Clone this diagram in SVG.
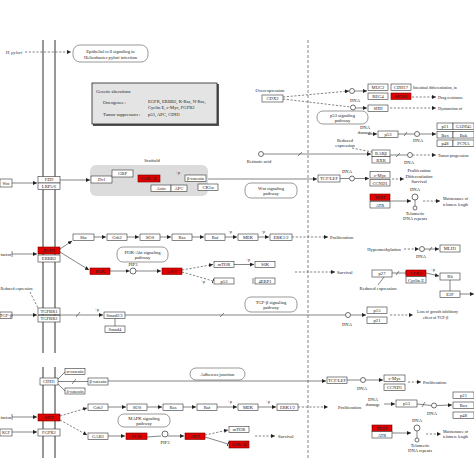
<svg xmlns="http://www.w3.org/2000/svg" width="474" height="474" viewBox="0 0 474 474">
<style>
.b{fill:#fff;stroke:#333;stroke-width:0.6}
.r{fill:#e00000;stroke:#700;stroke-width:0.6}
.t{font-family:"Liberation Serif",serif;font-size:4.6px;fill:#222;text-anchor:middle}
.s{text-anchor:start}
.e{text-anchor:end}
.sm{font-size:4px}
.l{stroke:#333;stroke-width:0.6;fill:none}
.d{stroke-dasharray:2.2 1.6}
.a{marker-end:url(#ar)}
.i{marker-end:url(#inh)}
.pw{fill:#fff;stroke:#555;stroke-width:0.6}
.c{fill:#fff;stroke:#333;stroke-width:0.7}
.mem{stroke:#8c8c8c;stroke-width:1.8}
</style>
<defs>
<marker id="ar" viewBox="0 0 6 6" refX="6" refY="3" markerWidth="4" markerHeight="4" orient="auto" markerUnits="userSpaceOnUse"><path d="M0,0L6,3L0,6z" fill="#222"/></marker>
<marker id="inh" viewBox="0 0 2 8" refX="1" refY="4" markerWidth="1" markerHeight="5" orient="auto" markerUnits="userSpaceOnUse"><path d="M1,0V8" stroke="#222" stroke-width="2"/></marker>
</defs>
<rect width="474" height="474" fill="#fff"/>
<g id="membrane">
<line class="mem" x1="43" y1="40" x2="43" y2="353"/><line class="mem" x1="55" y1="40" x2="55" y2="353"/>
<line class="mem" x1="43" y1="367" x2="43" y2="458"/><line class="mem" x1="55" y1="367" x2="55" y2="458"/>
<line x1="308" y1="40" x2="308" y2="458" stroke="#999" stroke-width="1.2" stroke-dasharray="3 2"/>
</g>
<g id="connectors">
<line class="l d a" x1="25" y1="52" x2="71" y2="52"/>
<line class="l d a" x1="283" y1="97" x2="349" y2="91"/>
<line class="l a" x1="354.5" y1="91" x2="367" y2="91"/>
<line class="l d" x1="283" y1="99" x2="350.5" y2="107"/>
<line class="l a" x1="355.5" y1="108" x2="367" y2="108"/>
<line class="l d a" x1="412" y1="97" x2="436" y2="97"/>
<line class="l d a" x1="390" y1="108" x2="436" y2="108"/>
<line class="l a" x1="368" y1="134" x2="377" y2="134"/>
<line class="l" x1="398" y1="134" x2="414.5" y2="134"/><line class="l" x1="404" y1="136" x2="407" y2="132"/>
<line class="l a" x1="419.5" y1="134" x2="436" y2="134"/>
<line class="l d" x1="352" y1="148" x2="372" y2="152"/>
<line class="l a" x1="263.5" y1="154" x2="371" y2="154"/><line class="l" x1="298" y1="156" x2="302" y2="152"/>
<line class="l" x1="390" y1="155" x2="407.5" y2="155"/><line class="l" x1="396" y1="157" x2="400" y2="153"/>
<line class="l d a" x1="412.5" y1="155" x2="436" y2="155"/>
<line class="l a" x1="12" y1="183" x2="37" y2="183"/>
<line class="l a" x1="60" y1="180" x2="90" y2="180"/>
<line class="l" x1="160" y1="181" x2="170" y2="177"/>
<line class="l a" x1="170" y1="178" x2="184" y2="178"/>
<line class="l a" x1="206" y1="179" x2="317" y2="179"/>
<line class="l" x1="340" y1="178.5" x2="349.5" y2="178.5"/>
<line class="l a" x1="354.5" y1="178.5" x2="369" y2="178.5"/>
<line class="l d a" x1="392" y1="179" x2="404" y2="179"/>
<line class="l a" x1="390" y1="201" x2="411" y2="201"/>
<line class="l" x1="415" y1="200" x2="415" y2="206"/>
<line class="l d a" x1="423" y1="201" x2="440" y2="201"/>
<line class="l" x1="12" y1="251" x2="12" y2="257"/>
<line class="l a" x1="12" y1="254" x2="37" y2="254"/>
<line class="l a" x1="60" y1="249" x2="72" y2="241"/>
<line class="l a" x1="60" y1="252" x2="89" y2="270"/>
<line class="l a" x1="94" y1="237" x2="106" y2="237"/>
<line class="l a" x1="127" y1="237" x2="139" y2="237"/>
<line class="l a" x1="160" y1="237" x2="171" y2="237"/>
<line class="l a" x1="192" y1="237" x2="204" y2="237"/>
<line class="l a" x1="225" y1="237" x2="237" y2="237"/>
<line class="l a" x1="258" y1="237" x2="269" y2="237"/>
<line class="l d a" x1="292" y1="237" x2="328" y2="237"/>
<line class="l a" x1="110" y1="271" x2="129.5" y2="271"/>
<line class="l a" x1="136" y1="271" x2="161" y2="271"/>
<line class="l d a" x1="182" y1="270" x2="213" y2="264.5"/>
<line class="l d i" x1="182" y1="272" x2="213" y2="281"/>
<line class="l a" x1="234" y1="264.5" x2="254" y2="264.5"/>
<line class="l" x1="253" y1="278" x2="253" y2="284"/>
<line class="l d a" x1="295" y1="272" x2="335" y2="272"/>
<line class="l d a" x1="404" y1="249" x2="419" y2="249"/>
<line class="l a" x1="424.5" y1="249" x2="439" y2="249"/><line class="l" x1="429" y1="251" x2="432" y2="247"/>
<line class="l i" x1="392" y1="273" x2="405" y2="273"/><line class="l" x1="396" y1="275" x2="399" y2="271"/>
<line class="l" x1="384" y1="277" x2="378" y2="285"/>
<line class="l a" x1="426" y1="273" x2="439" y2="276"/>
<line class="l" x1="450" y1="280" x2="450" y2="291"/>
<line class="l a" x1="460" y1="294" x2="474" y2="294"/>
<line class="l d" x1="30" y1="292" x2="38" y2="308"/>
<line class="l a" x1="12" y1="315" x2="37" y2="315"/>
<line class="l a" x1="60" y1="315" x2="103" y2="315"/><line class="l" x1="76" y1="317" x2="80" y2="312"/>
<line class="l" x1="115" y1="318" x2="115" y2="326"/>
<line class="l" x1="125" y1="315" x2="345.5" y2="315"/><line class="l" x1="220" y1="317" x2="224" y2="313"/>
<line class="l a" x1="350.5" y1="315" x2="366" y2="315"/>
<line class="l d a" x1="390" y1="315" x2="413" y2="315"/>
<line class="l" x1="58" y1="379" x2="65" y2="372"/>
<line class="l" x1="58" y1="384" x2="65" y2="391"/>
<line class="l" x1="58" y1="381.5" x2="88" y2="381.5"/><line class="l" x1="72" y1="384" x2="76" y2="379"/>
<line class="l a" x1="108" y1="381" x2="326" y2="381"/>
<line class="l" x1="347" y1="380" x2="360.5" y2="380"/>
<line class="l a" x1="365.5" y1="380" x2="383" y2="380"/>
<line class="l d a" x1="408" y1="382" x2="421" y2="382"/>
<line class="l" x1="12" y1="414" x2="12" y2="420"/>
<line class="l a" x1="12" y1="417" x2="37" y2="417"/>
<line class="l a" x1="12" y1="432" x2="37" y2="432"/>
<line class="l d a" x1="60" y1="416" x2="87" y2="408"/>
<line class="l d a" x1="60" y1="420" x2="87" y2="435"/>
<line class="l a" x1="108" y1="407" x2="126" y2="407"/>
<line class="l a" x1="147" y1="407" x2="162" y2="407"/>
<line class="l a" x1="183" y1="407" x2="196" y2="407"/>
<line class="l a" x1="217" y1="407" x2="237" y2="407"/>
<line class="l a" x1="258" y1="407" x2="276" y2="407"/>
<line class="l d a" x1="298" y1="407" x2="328" y2="407"/>
<line class="l a" x1="108" y1="436" x2="125" y2="436"/>
<line class="l" x1="147" y1="437" x2="161" y2="436"/>
<line class="l a" x1="168" y1="436" x2="184" y2="436"/>
<line class="l d a" x1="205" y1="435" x2="228" y2="430"/>
<line class="l i" x1="205" y1="437" x2="228" y2="444"/>
<line class="l d a" x1="255" y1="436" x2="275" y2="436"/>
<line class="l a" x1="384" y1="404" x2="395" y2="404"/>
<line class="l" x1="417" y1="404" x2="431.5" y2="405.5"/><line class="l" x1="422" y1="407" x2="425" y2="402"/>
<line class="l a" x1="436.5" y1="405.5" x2="452" y2="405"/>
<line class="l a" x1="392" y1="433" x2="411" y2="433"/>
<line class="l" x1="417" y1="431" x2="417" y2="438"/>
<line class="l d a" x1="426" y1="434" x2="441" y2="434"/>
</g>
<g id="circles">
<circle class="c" cx="352" cy="91" r="2.5"/>
<circle class="c" cx="353" cy="107.5" r="2.5"/>
<circle class="c" cx="417" cy="134" r="2.5"/>
<circle class="c" cx="261" cy="154" r="2.5"/>
<circle class="c" cx="410" cy="155" r="2.5"/>
<circle class="c" cx="352" cy="178.5" r="2.5"/>
<circle class="c" cx="415" cy="197" r="3"/>
<circle class="c" cx="415" cy="208" r="2"/>
<circle class="c" cx="133" cy="271" r="3"/>
<circle class="c" cx="422" cy="249" r="2.5"/>
<circle class="c" cx="348" cy="315" r="2.5"/>
<circle class="c" cx="363" cy="380" r="2.5"/>
<circle class="c" cx="165" cy="434" r="3"/>
<circle class="c" cx="434" cy="405.5" r="2.5"/>
<circle class="c" cx="417" cy="428" r="3"/>
<circle class="c" cx="417" cy="440" r="2"/>
</g>
<g id="pathways">
<g id="p-hpylori"><rect class="pw" x="73" y="45" width="75" height="17" rx="7"/><text class="t" x="110.5" y="52.5">Epithelial cell signaling in</text><text class="t" x="110.5" y="58.5">Helicobacter pylori infection</text></g>
<g id="p-p53"><rect class="pw" x="317" y="111" width="51" height="13" rx="6"/><text class="t" x="342.5" y="116.5">p53 signaling</text><text class="t" x="342.5" y="121.5">pathway</text></g>
<g id="p-wnt"><rect class="pw" x="245" y="183" width="52" height="15" rx="6"/><text class="t" x="271" y="189.5">Wnt signaling</text><text class="t" x="271" y="194.5">pathway</text></g>
<g id="p-pi3k"><rect class="pw" x="117" y="247" width="51" height="15" rx="6"/><text class="t" x="142.5" y="253.5">PI3K-Akt signaling</text><text class="t" x="142.5" y="258.5">pathway</text></g>
<g id="p-tgf"><rect class="pw" x="245" y="297" width="52" height="15" rx="6"/><text class="t" x="271" y="303.5">TGF-β signaling</text><text class="t" x="271" y="308.5">pathway</text></g>
<g id="p-adh"><rect class="pw" x="190" y="368" width="55" height="12" rx="6"/><text class="t" x="217.5" y="375.5">Adherens junction</text></g>
<g id="p-mapk"><rect class="pw" x="118" y="414" width="52" height="13" rx="6"/><text class="t" x="144" y="419.5">MAPK signaling</text><text class="t" x="144" y="424.5">pathway</text></g>
</g>
<g id="genetic">
<rect x="93" y="84" width="126" height="42" fill="#555"/>
<rect x="92" y="83" width="125" height="41" fill="#e4e4e4" stroke="#222" stroke-width="0.8"/>
<text class="t s" x="96" y="93">Genetic alterations</text>
<text class="t s" x="103" y="104">Oncogenes :</text>
<text class="t s" x="148" y="103">EGFR, ERBB2, K-Ras, N-Ras,</text>
<text class="t s" x="148" y="109">Cyclin E, c-Myc, FGFR2</text>
<text class="t s" x="103" y="116">Tumor suppressors :</text>
<text class="t s" x="148" y="116">p53, APC, CDH1</text>
</g>
<g id="scaffold"><rect x="90" y="165" width="118" height="31" rx="6" fill="#dcdcdc"/><text class="t" x="152" y="162">Scaffold</text></g>
<g id="nodes">
<g id="n-cdx2"><rect class="b" x="262" y="95" width="21" height="7"/><text class="t" x="272.5" y="100.3">CDX2</text></g>
<g id="n-muc2"><rect class="b" x="368" y="84" width="20" height="6.5"/><text class="t" x="378" y="89">MUC2</text></g>
<g id="n-cdh17"><rect class="b" x="391" y="84" width="20" height="6.5"/><text class="t" x="401" y="89">CDH17</text></g>
<g id="n-reg4"><rect class="b" x="368" y="93" width="20" height="6.5"/><text class="t" x="378" y="98">REG4</text></g>
<g id="n-mdr1"><rect class="r" x="391" y="93" width="20" height="6.5"/><text class="t" x="401" y="98">MDR1</text></g>
<g id="n-shh"><rect class="b" x="368" y="105" width="20" height="6.5"/><text class="t" x="378" y="110">SHH</text></g>
<g id="n-p53a"><rect class="b" x="378" y="131" width="20" height="6.5"/><text class="t" x="388" y="136">p53</text></g>
<g id="n-p21a"><rect class="b" x="437" y="123" width="16" height="6.5"/><text class="t" x="445" y="128">p21</text></g>
<g id="n-gadd"><rect class="b" x="453" y="123" width="21" height="6.5"/><text class="t sm" x="463.5" y="128">GADD45</text></g>
<g id="n-baxa"><rect class="b" x="437" y="131.5" width="16" height="6.5"/><text class="t" x="445" y="136.5">Bax</text></g>
<g id="n-bak"><rect class="b" x="453" y="131.5" width="21" height="6.5"/><text class="t" x="463.5" y="136.5">Bak</text></g>
<g id="n-p48a"><rect class="b" x="437" y="140" width="16" height="6.5"/><text class="t" x="445" y="145">p48</text></g>
<g id="n-pcna"><rect class="b" x="453" y="140" width="21" height="6.5"/><text class="t" x="463.5" y="145">PCNA</text></g>
<g id="n-rarb"><rect class="b" x="372" y="150" width="18" height="6.5"/><text class="t" x="381" y="155">RARβ</text></g>
<g id="n-rxr"><rect class="b" x="372" y="156.5" width="18" height="6.5"/><text class="t" x="381" y="161.5">RXR</text></g>
<g id="n-wnt"><rect class="b" x="0" y="179" width="12" height="8"/><text class="t sm" x="6" y="184.5">Wnt</text></g>
<g id="n-fzd"><rect class="b" x="38" y="176.5" width="22" height="6.5"/><text class="t" x="49" y="181.3">FZD</text></g>
<g id="n-lrp"><rect class="b" x="38" y="183" width="22" height="6.5"/><text class="t" x="49" y="187.8">LRP5/6</text></g>
<g id="n-dvl"><rect class="b" x="91" y="176" width="21" height="7"/><text class="t" x="101.5" y="181.3">Dvl</text></g>
<g id="n-gbp"><rect class="b" x="112" y="170" width="21" height="7"/><text class="t" x="122.5" y="175.3">GBP</text></g>
<g id="n-gsk"><rect class="r" x="138" y="175" width="22" height="7"/><text class="t" x="149" y="180.3">GSK-3β</text></g>
<g id="n-axin"><rect class="b" x="151" y="185" width="20" height="6.5"/><text class="t" x="161" y="190">Axin</text></g>
<g id="n-apc"><rect class="b" x="171" y="185" width="16" height="6.5"/><text class="t" x="179" y="190">APC</text></g>
<g id="n-ctnnb"><rect class="b" x="185" y="175" width="21" height="6.5"/><text class="t" x="195.5" y="180">β-catenin</text></g>
<g id="n-ck1"><rect class="b" x="198" y="184" width="20" height="6.5"/><text class="t" x="208" y="189">CK1α</text></g>
<g id="n-tcf1"><rect class="b" x="318" y="175" width="22" height="7"/><text class="t" x="329" y="180.3">TCF/LEF</text></g>
<g id="n-myc1"><rect class="b" x="370" y="171.5" width="20" height="6.5"/><text class="t" x="380" y="176.5">c-Myc</text></g>
<g id="n-ccnd1"><rect class="b" x="370" y="179.5" width="20" height="6.5"/><text class="t" x="380" y="184.5">CCND1</text></g>
<g id="n-tert1"><rect class="r" x="370" y="194" width="20" height="6.5"/><text class="t" x="380" y="199">TERT</text></g>
<g id="n-atr1"><rect class="b" x="370" y="201.5" width="20" height="6.5"/><text class="t" x="380" y="206.5">ATR</text></g>
<g id="n-egfr"><rect class="r" x="38" y="247" width="22" height="7"/><text class="t" x="49" y="252.3">EGFR</text></g>
<g id="n-erbb2"><rect class="b" x="38" y="255" width="22" height="7"/><text class="t" x="49" y="260.3">ERBB2</text></g>
<g id="n-shc"><rect class="b" x="73" y="234" width="21" height="6.5"/><text class="t" x="83.5" y="239">Shc</text></g>
<g id="n-grb2a"><rect class="b" x="107" y="234" width="20" height="6.5"/><text class="t" x="117" y="239">Grb2</text></g>
<g id="n-sosa"><rect class="b" x="140" y="234" width="20" height="6.5"/><text class="t" x="150" y="239">SOS</text></g>
<g id="n-rasa"><rect class="b" x="172" y="234" width="20" height="6.5"/><text class="t" x="182" y="239">Ras</text></g>
<g id="n-rafa"><rect class="b" x="205" y="234" width="20" height="6.5"/><text class="t" x="215" y="239">Raf</text></g>
<g id="n-meka"><rect class="b" x="238" y="234" width="20" height="6.5"/><text class="t" x="248" y="239">MEK</text></g>
<g id="n-erka"><rect class="b" x="270" y="234" width="22" height="6.5"/><text class="t" x="281" y="239">ERK1/2</text></g>
<g id="n-pi3ka"><rect class="r" x="90" y="268" width="20" height="6.5"/><text class="t" x="100" y="273">PI3K</text></g>
<g id="n-akta"><rect class="r" x="162" y="268" width="20" height="6.5"/><text class="t" x="172" y="273">AKT</text></g>
<g id="n-mtora"><rect class="b" x="214" y="261.5" width="20" height="6"/><text class="t" x="224" y="266.2">mTOR</text></g>
<g id="n-p53b"><rect class="b" x="214" y="278" width="20" height="6"/><text class="t" x="224" y="282.7">p53</text></g>
<g id="n-s6k"><rect class="b" x="255" y="261.5" width="20" height="6"/><text class="t" x="265" y="266.2">S6K</text></g>
<g id="n-4ebp"><rect class="b" x="255" y="278" width="20" height="6"/><text class="t" x="265" y="282.7">4EBP1</text></g>
<g id="n-mlh1"><rect class="b" x="440" y="245" width="20" height="7"/><text class="t" x="450" y="250.3">MLH1</text></g>
<g id="n-p27"><rect class="b" x="372" y="270" width="20" height="7"/><text class="t" x="382" y="275.3">p27</text></g>
<g id="n-cdk2"><rect class="r" x="406" y="270" width="20" height="6.5"/><text class="t" x="416" y="275">CDK2</text></g>
<g id="n-ccne"><rect class="b" x="406" y="276.5" width="20" height="6.5"/><text class="t" x="416" y="281.5">Cyclin E</text></g>
<g id="n-rb"><rect class="b" x="440" y="273" width="20" height="7"/><text class="t" x="450" y="278.3">Rb</text></g>
<g id="n-e2f"><rect class="b" x="440" y="291" width="20" height="6.5"/><text class="t" x="450" y="296">E2F</text></g>
<g id="n-tgfb"><rect class="b" x="0" y="312" width="12" height="6.5"/><text class="t" x="6" y="316.8" font-size="3.6">TGF-β</text></g>
<g id="n-tgfbr1"><rect class="b" x="38" y="308" width="22" height="6.5"/><text class="t" x="49" y="312.8">TGFBR1</text></g>
<g id="n-tgfbr2"><rect class="b" x="38" y="315.5" width="22" height="6.5"/><text class="t" x="49" y="320.3">TGFBR2</text></g>
<g id="n-smad23"><rect class="b" x="104" y="312" width="21" height="6.5"/><text class="t" x="114.5" y="317">Smad2/3</text></g>
<g id="n-smad4"><rect class="b" x="105" y="326" width="20" height="6.5"/><text class="t" x="115" y="331">Smad4</text></g>
<g id="n-p15"><rect class="b" x="367" y="307" width="20" height="6.5"/><text class="t" x="377" y="312">p15</text></g>
<g id="n-p21b"><rect class="b" x="367" y="317" width="20" height="6.5"/><text class="t" x="377" y="322">p21</text></g>
<g id="n-cdh1"><rect class="b" x="40" y="378" width="18" height="7"/><text class="t" x="49" y="383.3">CDH1</text></g>
<g id="n-acat"><rect class="b" x="65" y="368.5" width="20" height="6"/><text class="t" x="75" y="373.2">α-catenin</text></g>
<g id="n-bcat"><rect class="b" x="88" y="378" width="20" height="7"/><text class="t" x="98" y="383.3">β-catenin</text></g>
<g id="n-dcat"><rect class="b" x="65" y="388" width="20" height="6"/><text class="t" x="75" y="392.7">δ-catenin</text></g>
<g id="n-tcf2"><rect class="b" x="327" y="377" width="20" height="6.5"/><text class="t" x="337" y="382">TCF/LEF</text></g>
<g id="n-myc2"><rect class="b" x="384" y="375" width="21" height="6.5"/><text class="t" x="394.5" y="380">c-Myc</text></g>
<g id="n-ccnd2"><rect class="b" x="384" y="384" width="21" height="6.5"/><text class="t" x="394.5" y="389">CCND1</text></g>
<g id="n-met"><rect class="r" x="38" y="414" width="22" height="7"/><text class="t" x="49" y="419.3">MET</text></g>
<g id="n-fgfr2"><rect class="b" x="38" y="429" width="22" height="7"/><text class="t" x="49" y="434.3">FGFR2</text></g>
<g id="n-kgf"><rect class="b" x="0" y="429" width="12" height="7"/><text class="t sm" x="6" y="434">KGF</text></g>
<g id="n-grb2b"><rect class="b" x="88" y="404" width="20" height="6.5"/><text class="t" x="98" y="409">Grb2</text></g>
<g id="n-sosb"><rect class="b" x="127" y="404" width="20" height="6.5"/><text class="t" x="137" y="409">SOS</text></g>
<g id="n-rasb"><rect class="b" x="163" y="404" width="20" height="6.5"/><text class="t" x="173" y="409">Ras</text></g>
<g id="n-rafb"><rect class="b" x="197" y="404" width="20" height="6.5"/><text class="t" x="207" y="409">Raf</text></g>
<g id="n-mekb"><rect class="b" x="238" y="404" width="20" height="6.5"/><text class="t" x="248" y="409">MEK</text></g>
<g id="n-erkb"><rect class="b" x="277" y="404" width="21" height="6.5"/><text class="t" x="287.5" y="409">ERK1/2</text></g>
<g id="n-gab1"><rect class="b" x="88" y="433" width="20" height="6.5"/><text class="t" x="98" y="438">GAB1</text></g>
<g id="n-pi3kb"><rect class="r" x="126" y="433" width="21" height="6.5"/><text class="t" x="136.5" y="438">PI3K</text></g>
<g id="n-aktb"><rect class="r" x="185" y="433" width="20" height="6.5"/><text class="t" x="195" y="438">AKT</text></g>
<g id="n-mtorb"><rect class="b" x="229" y="426.5" width="20" height="6"/><text class="t" x="239" y="431.2">mTOR</text></g>
<g id="n-gskb"><rect class="r" x="229" y="441" width="20" height="7"/><text class="t" x="239" y="446.3">GSK-3β</text></g>
<g id="n-p53c"><rect class="b" x="396" y="400" width="21" height="7"/><text class="t" x="406.5" y="405.3">p53</text></g>
<g id="n-p21c"><rect class="b" x="453" y="392" width="21" height="6.5"/><text class="t" x="463.5" y="397">p21</text></g>
<g id="n-baxc"><rect class="b" x="453" y="402" width="21" height="6.5"/><text class="t" x="463.5" y="407">Bax</text></g>
<g id="n-p48c"><rect class="b" x="453" y="412" width="21" height="6.5"/><text class="t" x="463.5" y="417">p48</text></g>
<g id="n-tert2"><rect class="r" x="372" y="425" width="20" height="6.5"/><text class="t" x="382" y="430">TERT</text></g>
<g id="n-atr2"><rect class="b" x="372" y="431.5" width="20" height="6.5"/><text class="t" x="382" y="436.5">ATR</text></g>
</g>
<g id="labels">
<text class="t" x="14" y="53.5" font-style="italic">H. pylori</text>
<text class="t" x="270" y="92">Overexpression</text>
<text class="t" x="355" y="102">DNA</text>
<text class="t s sm" x="413" y="89">Intestinal differentiation, in</text>
<text class="t s sm" x="438" y="98.5">Drug resistance</text>
<text class="t s sm" x="438" y="109.5">Dysfunction of</text>
<text class="t" x="365" y="128.5">DNA</text><text class="t" x="365" y="133.5">damage</text>
<text class="t" x="418" y="142">DNA</text>
<text class="t" x="345" y="142">Reduced</text><text class="t" x="345" y="147">expression</text>
<text class="t" x="259" y="163">Retinoic acid</text>
<text class="t" x="409" y="163.5">DNA</text>
<text class="t s sm" x="438" y="156.5">Tumor progression</text>
<text class="t" x="347" y="173">DNA</text>
<text class="t" x="419" y="172">Proliferation</text><text class="t" x="419" y="177.5">Differentiation</text><text class="t" x="419" y="183">Survival</text>
<text class="t" x="415" y="191">DNA</text>
<text class="t" x="415" y="214.5">Telomeric</text><text class="t" x="415" y="219.5">DNA repeats</text>
<text class="t s sm" x="443" y="200">Maintenance of</text><text class="t s sm" x="443" y="205.5">telomere length</text>
<text class="t s" x="330" y="238.5">Proliferation</text>
<text class="t s" x="0.5" y="255.5" font-size="3.8">factor</text>
<text class="t" x="133" y="265.5">PIP3</text>
<text class="t sm" x="248" y="261">+p</text>
<text class="t sm" x="203" y="283">+p</text>
<text class="t sm" x="230" y="233">+p</text>
<text class="t sm" x="263" y="233">+p</text>
<text class="t sm" x="178" y="173.5">+p</text>
<text class="t s" x="337" y="273.5">Survival</text>
<text class="t" x="384" y="250.5">Hypermethylation</text>
<text class="t" x="421" y="257.5">DNA</text>
<text class="t" x="378" y="289.5">Reduced expression</text>
<text class="t sm" x="433" y="271">+p</text>
<text class="t s sm" x="0.5" y="289.5">Reduced expression</text>
<text class="t sm" x="97" y="310.5">+p</text>
<text class="t" x="347" y="325.5">DNA</text>
<text class="t s sm" x="417" y="312.5">Loss of growth inhibitory</text><text class="t s sm" x="423" y="318.5">effect of TGF-β</text>
<text class="t" x="362" y="389.5">DNA</text>
<text class="t s" x="423" y="383.5">Proliferation</text>
<text class="t s" x="0.5" y="418.5" font-size="3.8">factor</text>
<text class="t sm" x="230" y="403">+p</text>
<text class="t sm" x="268" y="403">+p</text>
<text class="t" x="165" y="443.5">PIP3</text>
<text class="t s" x="278" y="437.5">Survival</text>
<text class="t s" x="338" y="409">Proliferation</text>
<text class="t" x="373" y="400.5">DNA</text><text class="t" x="373" y="406">damage</text>
<text class="t" x="432" y="414.5">DNA</text>
<text class="t" x="417" y="421.5">DNA</text>
<text class="t" x="420" y="446.5">Telomeric</text><text class="t" x="420" y="451.5">DNA repeats</text>
<text class="t s sm" x="443" y="432.5">Maintenance of</text><text class="t s sm" x="443" y="438">telomere length</text>
</g>
</svg>
